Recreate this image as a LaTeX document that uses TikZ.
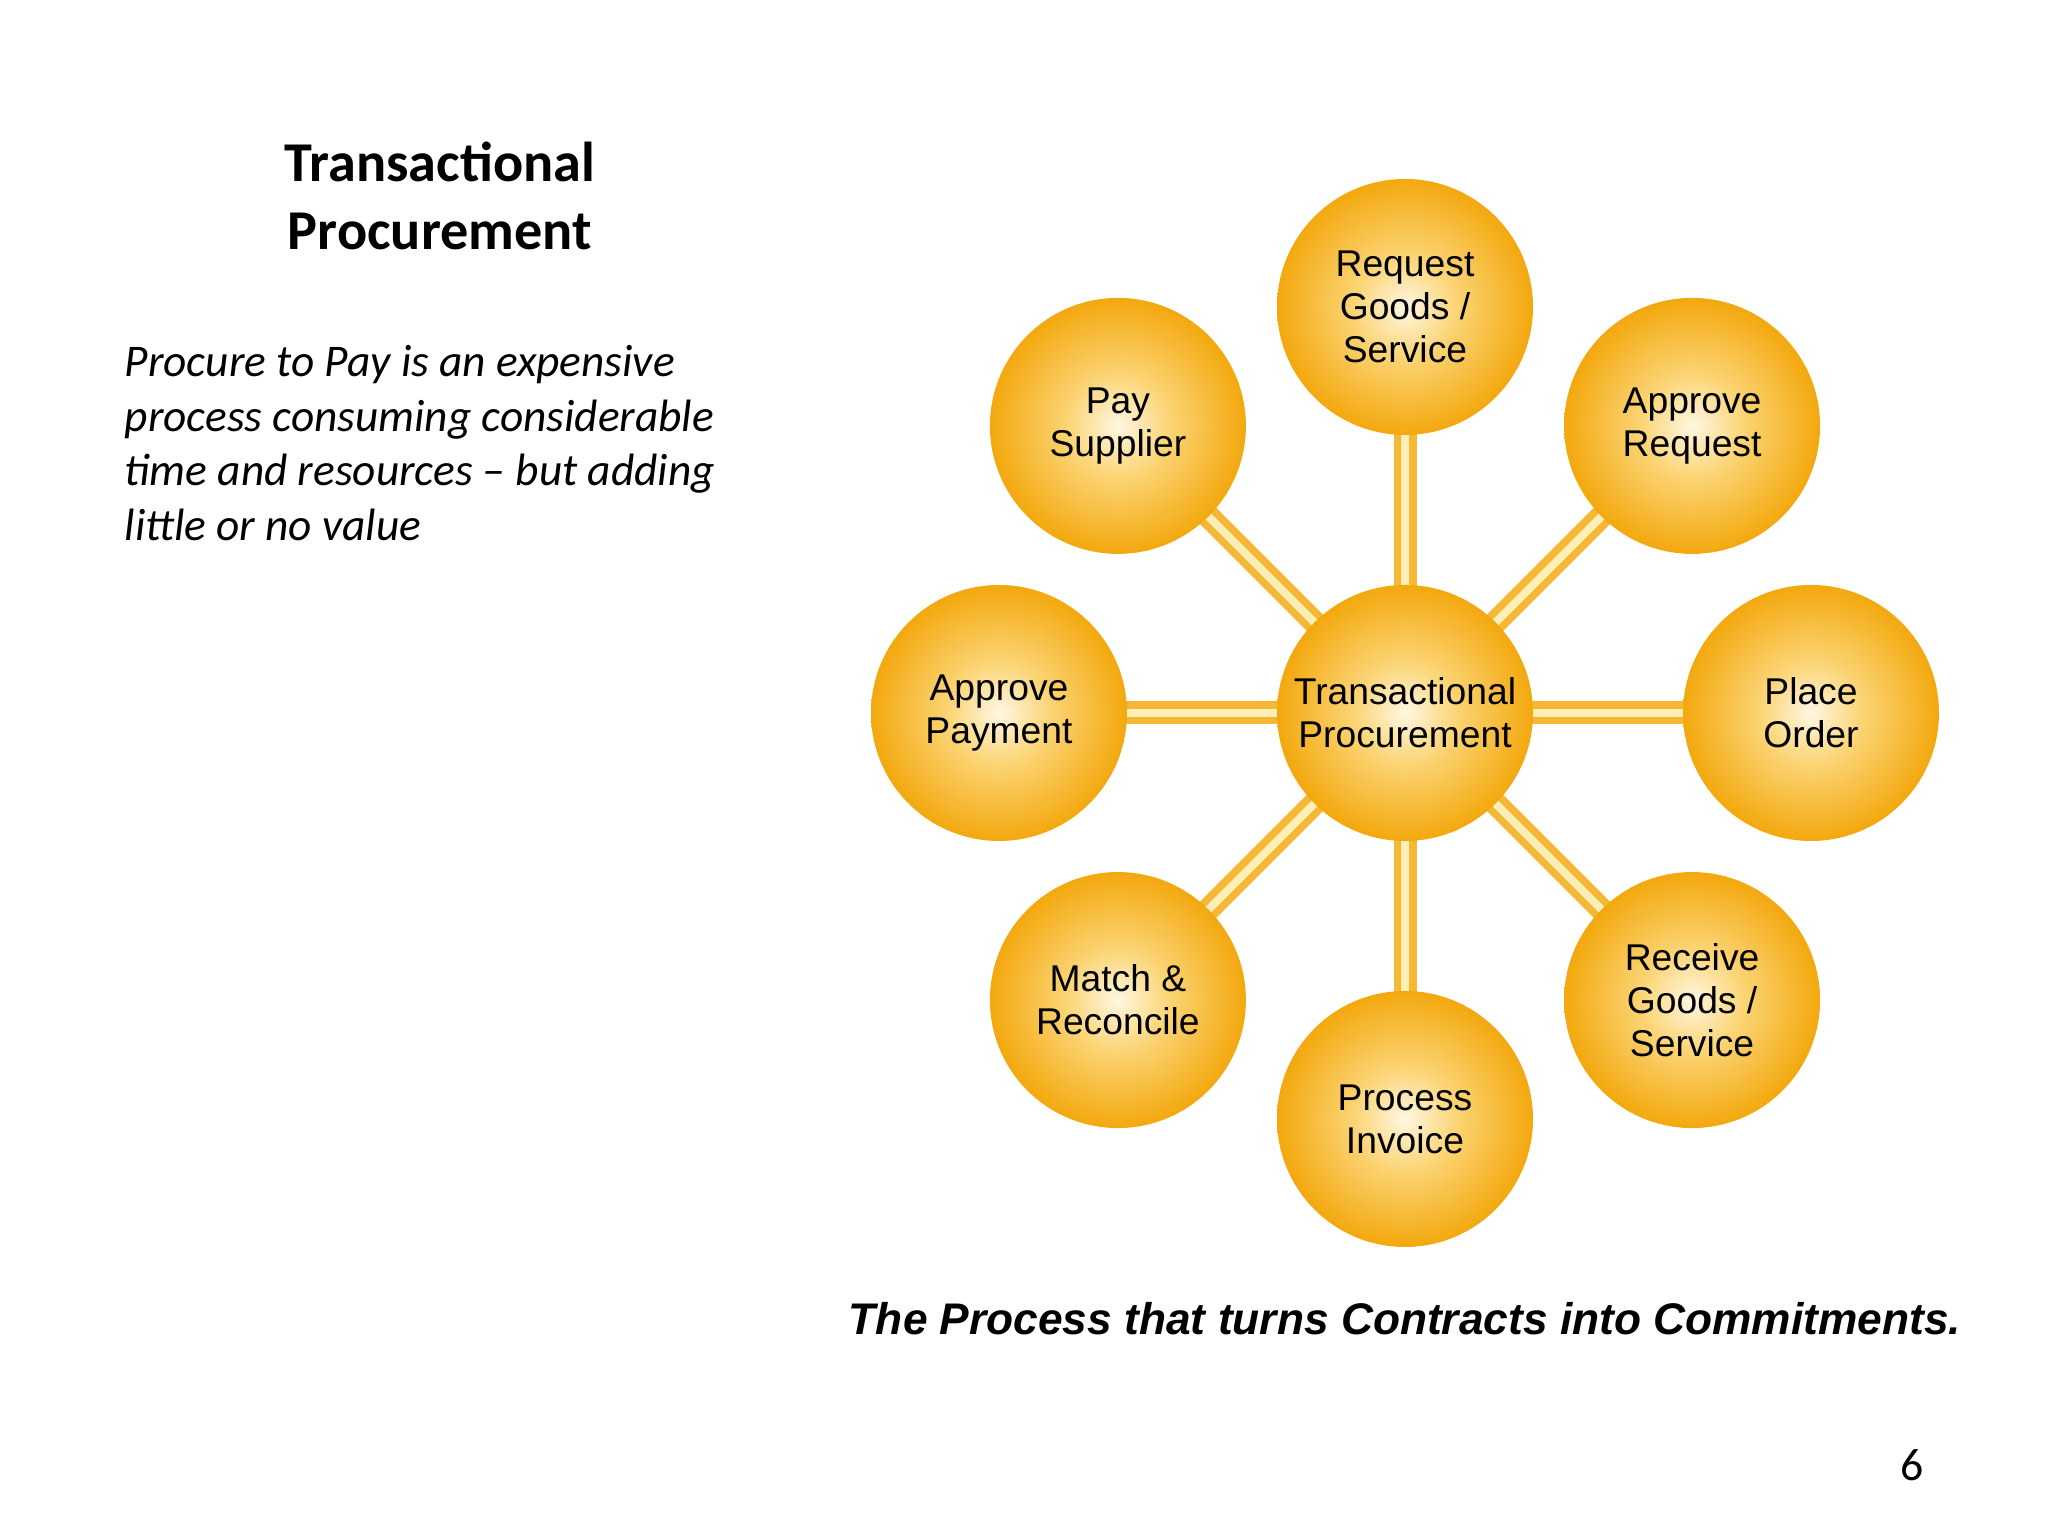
\documentclass[tikz,border=0pt]{standalone}
\usepackage{fontspec}
\setmainfont{Liberation Sans}
\newfontfamily\slidefont{Carlito}
\usetikzlibrary{backgrounds}
\definecolor{bubbleCore}{RGB}{255,247,226}
\definecolor{bubbleMid}{RGB}{251,212,116}
\definecolor{bubbleEdge}{RGB}{243,168,14}
\definecolor{spokeEdge}{RGB}{244,184,52}
\definecolor{spokeCore}{RGB}{255,238,184}
\pgfdeclareradialshading{bubble}{\pgfpoint{0bp}{0bp}}{color(0bp)=(bubbleCore); color(10bp)=(bubbleMid); color(25bp)=(bubbleEdge); color(50bp)=(bubbleEdge)}

\begin{document}
\begin{tikzpicture}[
    stage/.style={shape=circle,minimum size=2.56cm,inner sep=0pt,shading=bubble,align=center,font=\fontsize{10.6}{12.2}\selectfont},
    spoke/.style={line width=0.23cm,draw=spokeEdge},
    spokecore/.style={line width=0.08cm,draw=spokeCore}]
    \useasboundingbox (0,0) rectangle (20.48,15.36);

    \node[font=\slidefont\bfseries\fontsize{16}{19.5}\selectfont,align=center] (Title) at (4.40,13.40) {Transactional\\Procurement};
    \node[font=\slidefont\itshape\fontsize{12.9}{15.5}\selectfont,align=left,anchor=north west,inner sep=0pt] (Blurb) at (1.24,11.91)
        {Procure to Pay is an expensive\\process consuming considerable\\time and resources – but adding\\little or no value};

    \node[stage] (Hub) at (14.05,8.23) {Transactional\\Procurement};
    \foreach \a/\n/\t in {90/Request/{Request\\Goods /\\Service},45/ApproveRequest/{Approve\\Request},0/Order/{Place\\Order},
                          -45/Receive/{Receive\\Goods /\\Service},-90/Invoice/{Process\\Invoice},-135/Match/{Match \&\\Reconcile},
                          180/ApprovePayment/{Approve\\Payment},135/Pay/{Pay\\Supplier}}
        \node[stage] (\n) at ([shift={(\a:4.06)}]Hub.center) {\t};

    \begin{scope}[on background layer]
        \foreach \n in {Request,ApproveRequest,Order,Receive,Invoice,Match,ApprovePayment,Pay} {
            \draw[spoke] (Hub.center) -- (\n.center);
            \draw[spokecore] (Hub.center) -- (\n.center);
        }
    \end{scope}

    \node[font=\bfseries\itshape\fontsize{12.6}{15}\selectfont] (Motto) at (14.05,2.17) {The Process that turns Contracts into Commitments.};
    \node[font=\slidefont\fontsize{13}{15}\selectfont] (PageNo) at (19.12,0.71) {6};
\end{tikzpicture}
\end{document}
